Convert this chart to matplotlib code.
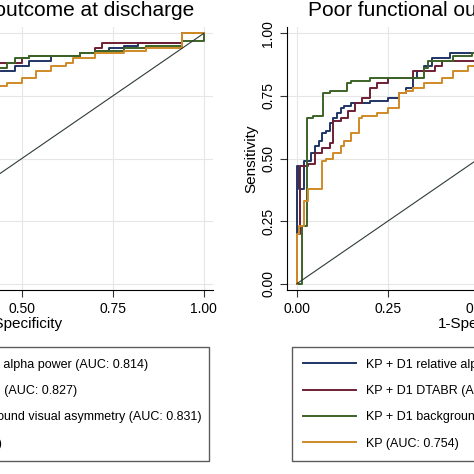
import matplotlib
matplotlib.use("Agg")
import matplotlib.pyplot as plt

plt.rcParams['font.family'] = ['Liberation Sans', 'DejaVu Sans']

labels = ["KP + D1 relative alpha power (AUC: 0.814)",
          "KP + D1 DTABR (AUC: 0.827)",
          "KP + D1 background visual asymmetry (AUC: 0.831)",
          "KP (AUC: 0.794)"]
labels_r = ["KP + D1 relative alpha power (AUC: 0.823)",
            "KP + D1 DTABR (AUC: 0.829)",
            "KP + D1 background visual asymmetry (AUC: 0.851)",
            "KP (AUC: 0.754)"]
colors = ["#1f3566", "#6e1f33", "#3d6328", "#d08a26"]
titles = ["Poor functional outcome at discharge", "Poor functional outcome at 3 months"]
ticks = [0.0, 0.25, 0.5, 0.75, 1.0]
ticklabels = ["0.00", "0.25", "0.50", "0.75", "1.00"]

# left panel (discharge)
L_blue_x = [0, 0, 0.03, 0.08, 0.15, 0.22, 0.30, 0.38, 0.48, 0.52, 0.58, 0.66, 0.70, 0.74, 0.78, 0.82, 0.94, 1.0]
L_blue_y = [0, 0.45, 0.58, 0.66, 0.73, 0.78, 0.82, 0.85, 0.87, 0.89, 0.91, 0.92, 0.93, 0.94, 0.95, 0.96, 1.0, 1.0]
L_mar_x = [0, 0, 0.02, 0.06, 0.12, 0.20, 0.28, 0.36, 0.50, 0.52, 0.66, 0.70, 0.72, 0.94, 1.0]
L_mar_y = [0, 0.50, 0.62, 0.70, 0.77, 0.82, 0.85, 0.88, 0.90, 0.91, 0.92, 0.94, 0.96, 1.0, 1.0]
L_grn_x = [0, 0, 0.02, 0.07, 0.13, 0.21, 0.29, 0.37, 0.458, 0.48, 0.50, 0.52, 0.58, 0.66, 0.70, 0.78, 0.84, 0.94, 1.0]
L_grn_y = [0, 0.52, 0.63, 0.71, 0.77, 0.81, 0.84, 0.86, 0.88, 0.90, 0.90, 0.91, 0.91, 0.92, 0.93, 0.94, 0.95, 0.97, 1.0]
L_org_x = [0, 0, 0.03, 0.08, 0.14, 0.22, 0.30, 0.36, 0.458, 0.50, 0.54, 0.58, 0.62, 0.64, 0.70, 0.78, 0.84, 0.94, 1.0]
L_org_y = [0, 0.30, 0.44, 0.55, 0.63, 0.70, 0.75, 0.79, 0.80, 0.82, 0.85, 0.87, 0.88, 0.90, 0.92, 0.93, 0.94, 1.0, 1.0]

# right panel (3 months)
R_blue_x = [0, 0, 0.007, 0.02, 0.04, 0.05, 0.06, 0.07, 0.08, 0.09, 0.10, 0.11, 0.12, 0.13, 0.15, 0.20, 0.25, 0.28, 0.30, 0.32, 0.33, 0.35, 0.37, 0.42, 0.50, 0.60, 0.75, 0.90, 1.0]
R_blue_y = [0, 0.47, 0.38, 0.49, 0.52, 0.55, 0.57, 0.60, 0.61, 0.64, 0.66, 0.68, 0.70, 0.71, 0.72, 0.73, 0.74, 0.76, 0.78, 0.82, 0.85, 0.87, 0.90, 0.92, 0.93, 0.95, 0.97, 0.99, 1.0]
R_mar_x = [0, 0, 0.01, 0.03, 0.05, 0.07, 0.09, 0.10, 0.12, 0.14, 0.16, 0.18, 0.20, 0.22, 0.25, 0.30, 0.32, 0.36, 0.38, 0.40, 0.50, 0.65, 0.80, 0.95, 1.0]
R_mar_y = [0, 0.20, 0.47, 0.48, 0.52, 0.54, 0.56, 0.65, 0.66, 0.69, 0.72, 0.74, 0.78, 0.80, 0.82, 0.82, 0.85, 0.85, 0.87, 0.89, 0.91, 0.94, 0.96, 0.99, 1.0]
R_grn_x = [0, 0, 0.014, 0.027, 0.045, 0.071, 0.09, 0.137, 0.15, 0.20, 0.34, 0.35, 0.36, 0.43, 0.48, 0.60, 0.75, 0.90, 1.0]
R_grn_y = [0, 0, 0.23, 0.66, 0.67, 0.76, 0.77, 0.80, 0.81, 0.82, 0.82, 0.86, 0.89, 0.91, 0.92, 0.94, 0.96, 0.99, 1.0]
R_org_x = [0, 0, 0.007, 0.02, 0.03, 0.06, 0.07, 0.08, 0.10, 0.12, 0.13, 0.15, 0.17, 0.18, 0.22, 0.25, 0.28, 0.30, 0.32, 0.35, 0.40, 0.43, 0.47, 0.50, 0.60, 0.75, 0.90, 1.0]
R_org_y = [0, 0.20, 0.23, 0.33, 0.38, 0.38, 0.49, 0.50, 0.52, 0.55, 0.57, 0.60, 0.66, 0.67, 0.68, 0.70, 0.76, 0.77, 0.78, 0.80, 0.82, 0.85, 0.87, 0.90, 0.94, 0.97, 0.99, 1.0]

diag = [0, 1]

W = 474
fig = plt.figure(figsize=(4.74, 4.74), dpi=100)

def add_axes(x0px, panel):
    ax = fig.add_axes([x0px / W, (474 - 290) / W, 383 / W, 263 / W])
    ax.set_xlim(-0.027, 1.025)
    ax.set_ylim(-0.025, 1.025)
    for s in ['top', 'right']:
        ax.spines[s].set_visible(False)
    ax.set_xticks(ticks, ticklabels, fontsize=10)
    ax.set_yticks(ticks, ticklabels, fontsize=10, rotation=90, va='center')
    ax.tick_params(direction='out', length=5, color='#333333')
    ax.grid(True, color='#e6e6e6', lw=0.8)
    ax.set_axisbelow(True)
    ax.set_xlabel("1-Specificity", fontsize=11, labelpad=1)
    ax.set_ylabel("Sensitivity", fontsize=11, labelpad=2)
    ax.set_title(titles[panel], fontsize=15, pad=8)
    return ax

axL = add_axes(-170, 0)
axR = add_axes(287, 1)

for ax, sets, labs in [
    (axL, [(L_blue_x, L_blue_y), (L_mar_x, L_mar_y), (L_grn_x, L_grn_y), (L_org_x, L_org_y)], labels),
    (axR, [(R_blue_x, R_blue_y), (R_mar_x, R_mar_y), (R_grn_x, R_grn_y), (R_org_x, R_org_y)], labels_r)]:
    hs = []
    for (x, y), c, lb in zip(sets, colors, labs):
        h, = ax.plot(x, y, drawstyle='steps-post', color=c, lw=1.4, label=lb)
        hs.append(h)
    ax.plot(diag, diag, color='#2f3b35', lw=0.8)
    ax.hs = hs

for ax, x0 in [(axL, -165), (axR, 292)]:
    fig.legend(handles=ax.hs, loc='lower left',
               bbox_to_anchor=(x0 / W, (474 - 461) / W, 374 / W, 118 / W),
               mode='expand', fontsize=9, frameon=True, fancybox=False,
               edgecolor='#333333', labelspacing=1.15, handlelength=4.2,
               borderpad=0.9, borderaxespad=0)

fig.savefig("out.png", dpi=100)
